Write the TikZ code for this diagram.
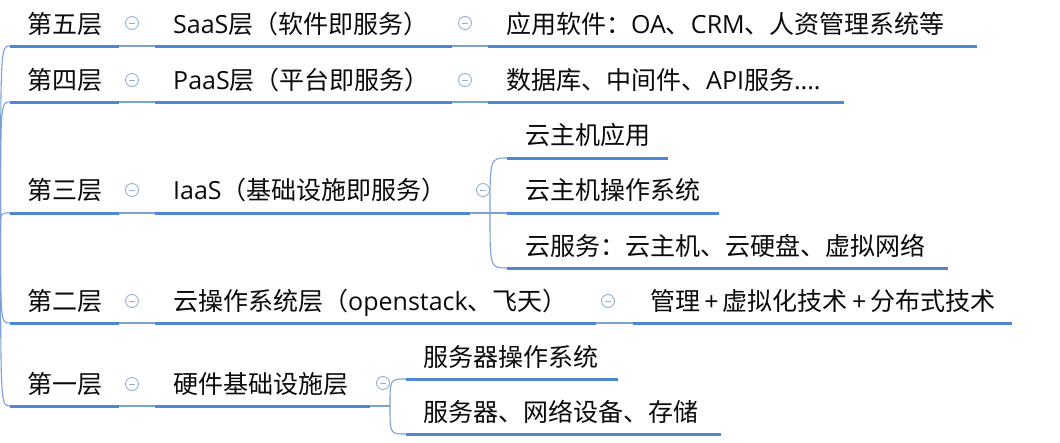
\documentclass[tikz,border=0pt]{standalone}
\usepackage{fontspec}
\setmainfont{Noto Sans CJK SC}
\newfontfamily\lat{Open Sans}
\definecolor{ulblue}{RGB}{79,135,212}
\definecolor{connblue}{RGB}{125,160,215}
\definecolor{foldblue}{RGB}{150,175,218}
\definecolor{txtblack}{RGB}{10,10,10}
\tikzset{
  txt/.style={anchor=west,inner sep=0pt,font=\fontsize{25}{30}\selectfont,text=txtblack,text height=21.25pt,text depth=2.25pt},
  ul/.style={draw=ulblue,line width=3pt},
  conn/.style={draw=connblue,line width=1.1pt},
  fold/.style={circle,draw=foldblue,line width=0.9pt,fill=white,minimum size=13pt,inner sep=0pt,
    path picture={\draw[foldblue,line width=0.9pt] ([xshift=-3pt]path picture bounding box.center) -- ([xshift=3pt]path picture bounding box.center);}},
}
\begin{document}
\begin{tikzpicture}[x=1pt,y=-1pt]
\fill[white] (0,0) rectangle (1060,442);
\useasboundingbox (0,0) rectangle (1060,442);

\coordinate (root) at (0.6,226);

% ---------- Row 5 ----------
\coordinate (a1-l) at (10,46);  \coordinate (a1-r) at (119,46);
\node[txt] (a1) at (27,24) {第五层};
\coordinate (a2-l) at (155,46); \coordinate (a2-r) at (452,46);
\node[txt] (a2) at (173,24) {{\lat SaaS}层（软件即服务）};
\coordinate (a3-l) at (488,46); \coordinate (a3-r) at (977,46);
\node[txt] (a3) at (506,24) {应用软件：{\lat OA}、{\lat CRM}、人资管理系统等};
\node[fold] (fa1) at (132,23) {};
\node[fold] (fa2) at (465,23) {};

% ---------- Row 4 ----------
\coordinate (b1-l) at (10,102);  \coordinate (b1-r) at (119,102);
\node[txt] (b1) at (27,80) {第四层};
\coordinate (b2-l) at (155,102); \coordinate (b2-r) at (452,102);
\node[txt] (b2) at (173,80) {{\lat PaaS}层（平台即服务）};
\coordinate (b3-l) at (488,102); \coordinate (b3-r) at (844,102);
\node[txt] (b3) at (506,80) {数据库、中间件、{\lat API}服务{\lat ....}};
\node[fold] (fb1) at (132,80) {};
\node[fold] (fb2) at (465,80) {};

% ---------- Row 3 ----------
\coordinate (c1-l) at (10,213);  \coordinate (c1-r) at (119,213);
\node[txt] (c1) at (27,190) {第三层};
\coordinate (c2-l) at (155,213); \coordinate (c2-r) at (470,213);
\node[txt] (c2) at (173,190) {{\lat IaaS}（基础设施即服务）};
\coordinate (c2-b) at (490,213);
\coordinate (c3-l) at (507,158); \coordinate (c3-r) at (668,158);
\node[txt] (c3) at (525,135) {云主机应用};
\coordinate (c4-l) at (507,213); \coordinate (c4-r) at (719,213);
\node[txt] (c4) at (525,190) {云主机操作系统};
\coordinate (c5-l) at (507,268); \coordinate (c5-r) at (948,268);
\node[txt] (c5) at (525,246) {云服务：云主机、云硬盘、虚拟网络};
\node[fold] (fc1) at (132,190) {};

% ---------- Row 2 ----------
\coordinate (d1-l) at (10,323);  \coordinate (d1-r) at (119,323);
\node[txt] (d1) at (27,301) {第二层};
\coordinate (d2-l) at (155,323); \coordinate (d2-r) at (596,323);
\node[txt] (d2) at (173,301) {云操作系统层（{\lat openstack}、飞天）};
\coordinate (d3-l) at (633,323); \coordinate (d3-r) at (1012,323);
\node[txt] (d3) at (650,301) {管理{\lat\,+\,}虚拟化技术{\lat\,+\,}分布式技术};
\node[fold] (fd1) at (132,301) {};

% ---------- Row 1 ----------
\coordinate (e1-l) at (10,406);  \coordinate (e1-r) at (119,406);
\node[txt] (e1) at (27,384) {第一层};
\coordinate (e2-l) at (155,406); \coordinate (e2-r) at (370,406);
\node[txt] (e2) at (173,384) {硬件基础设施层};
\coordinate (e2-b) at (390,406);
\coordinate (e3-l) at (406,379); \coordinate (e3-r) at (618,379);
\node[txt] (e3) at (423,357) {服务器操作系统};
\coordinate (e4-l) at (406,434); \coordinate (e4-r) at (721,434);
\node[txt] (e4) at (423,412) {服务器、网络设备、存储};
\node[fold] (fe1) at (132,384) {};

% ---------- connectors ----------
\foreach \n in {a1,b1,c1,d1,e1}
  \draw[conn] (root) .. controls (root |- \n-l) .. (\n-l);
\draw[conn] (a1-r) -- (a2-l);
\draw[conn] (a2-r) -- (a3-l);
\draw[conn] (b1-r) -- (b2-l);
\draw[conn] (b2-r) -- (b3-l);
\draw[conn] (c1-r) -- (c2-l);
\draw[conn] (c2-r) -- (c2-b);
\foreach \n in {c3,c4,c5}
  \draw[conn] (c2-b) .. controls (c2-b |- \n-l) .. (\n-l);
\draw[conn] (d1-r) -- (d2-l);
\draw[conn] (d2-r) -- (d3-l);
\draw[conn] (e1-r) -- (e2-l);
\draw[conn] (e2-r) -- (e2-b);
\foreach \n in {e3,e4}
  \draw[conn] (e2-b) .. controls (e2-b |- \n-l) .. (\n-l);

% ---------- underlines ----------
\foreach \n in {a1,a2,a3,b1,b2,b3,c1,c2,c3,c4,c5,d1,d2,d3,e1,e2,e3,e4}
  \draw[ul] (\n-l) -- (\n-r);

% ---------- fold markers on the right side ----------
\node[fold] (fc2) at (483,190) {};
\node[fold] (fd2) at (608,301) {};
\node[fold] (fe2) at (383,383) {};
\end{tikzpicture}
\end{document}
